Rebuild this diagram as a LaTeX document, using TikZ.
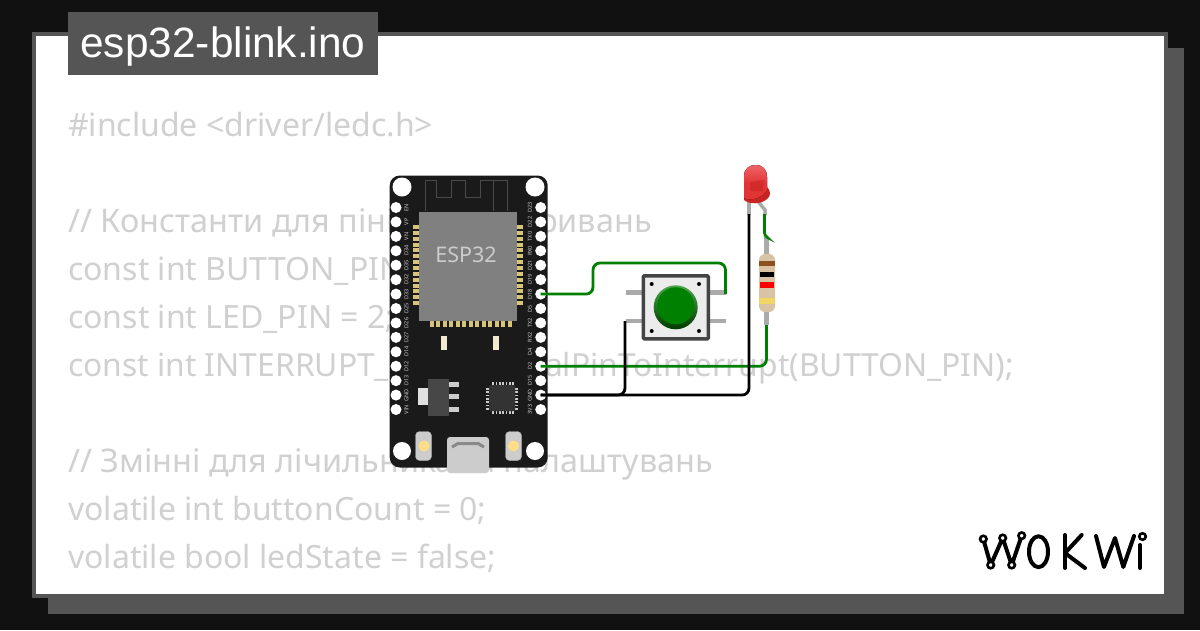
\documentclass[tikz,border=0pt]{standalone}
\usepackage{fontspec}
\setmainfont{Noto Sans}
\newfontfamily\titlefont{Liberation Sans}
\usetikzlibrary{positioning}
\definecolor{page_black}{RGB}{17, 17, 17}
\definecolor{frame_gray}{RGB}{85, 85, 85}
\definecolor{code_gray}{RGB}{208, 208, 208}
\definecolor{board_black}{RGB}{26, 26, 26}
\definecolor{module_gray}{RGB}{128, 128, 128}
\definecolor{antenna_gray}{RGB}{74, 74, 74}
\definecolor{pad_gold}{RGB}{214, 196, 120}
\definecolor{chip_dark}{RGB}{51, 51, 51}
\definecolor{part_light}{RGB}{204, 204, 204}
\definecolor{wire_green}{RGB}{0, 128, 0}
\definecolor{lead_gray}{RGB}{170, 170, 170}
\definecolor{led_red}{RGB}{226, 52, 52}
\definecolor{led_dark}{RGB}{200, 36, 36}
\definecolor{led_light}{RGB}{240, 100, 105}
\definecolor{res_tan}{RGB}{217, 195, 165}
\definecolor{res_brown}{RGB}{140, 80, 30}
\definecolor{res_yellow}{RGB}{240, 215, 100}
\definecolor{cap_green}{RGB}{0, 128, 0}
\definecolor{tact_yellow}{RGB}{255, 222, 135}

\begin{document}
\begin{tikzpicture}[
    x=1pt, y=-1pt,
    codeline/.style={
        anchor=base west,
        inner sep=0pt,
        text=code_gray,
        font=\fontsize{32}{32}\selectfont
    },
    cyrline/.style={
        codeline,
        font=\fontsize{32.4}{32.4}\selectfont
    },
    pinhole/.style={
        circle,
        fill=white,
        minimum size=11pt,
        inner sep=0pt
    },
    pinlabel/.style={
        rotate=90,
        inner sep=0pt,
        text=part_light,
        font=\fontsize{5.5}{5.5}\selectfont
    },
    wire/.style={
        line width=2.8pt,
        rounded corners=7pt,
        #1
    },
    lead/.style={
        line width=4.5pt,
        draw=lead_gray
    },
    pad/.style={
        fill=pad_gold
    },
    tact/.style={
        rectangle,
        fill=part_light,
        draw=lead_gray,
        minimum width=16pt,
        minimum height=29pt,
        rounded corners=4pt
    },
    tactcap/.style={
        circle,
        fill=tact_yellow,
        minimum size=11pt,
        inner sep=0pt
    },
    swdot/.style={
        circle,
        fill=black,
        minimum size=4pt,
        inner sep=0pt
    },
    logo/.style={
        line width=4pt,
        line cap=round,
        line join=round,
        draw=black
    },
    logodot/.style={
        circle,
        draw=black,
        fill=white,
        line width=2.6pt,
        minimum size=6.5pt,
        inner sep=0pt
    }
]

% Page and frame
\fill[page_black] (0,0) rectangle (1200,630);
\fill[frame_gray] (48,48) rectangle (1184,614);
\fill[frame_gray] (32,32) rectangle (1168,598);
\fill[white] (36,36) rectangle (1164,594);
\node[fill=frame_gray, minimum width=310pt, minimum height=63pt, inner sep=0pt] (titlebox) at (223,43.5) {};
\node[anchor=base, inner sep=0pt, text=white, font=\titlefont\fontsize{42.4}{42.4}\selectfont] (title) at (223,57.5) {esp32-blink.ino};

% Code behind the circuit
\node[codeline] (codeinclude) at (68,136) {\#include <driver/ledc.h>};
\node[cyrline] (codepins) at (68,232) {// Константи для пінів та переривань};
\node[codeline] (codebutton) at (68,280) {const int BUTTON\_PIN = 18;};
\node[codeline] (codeled) at (68,328) {const int LED\_PIN = 2;};
\node[codeline, font=\fontsize{31.8}{31.8}\selectfont] (codeint) at (68,376) {const int INTERRUPT\_PIN = digitalPinToInterrupt(BUTTON\_PIN);};
\node[cyrline] (codecount) at (68,472) {// Змінні для лічильника та налаштувань};
\node[codeline] (codevar) at (68,520) {volatile int buttonCount = 0;};
\node[codeline] (codestate) at (68,568) {volatile bool ledState = false;};

% The board
\node[rectangle, fill=board_black, rounded corners=10pt, minimum width=158pt, minimum height=292pt, inner sep=0pt] (board) at (468.7,321.5) {};
\node[pinhole, minimum size=19pt] (holetl) at (402,187) {};
\node[pinhole, minimum size=19pt] (holetr) at (535,187) {};
\node[pinhole, minimum size=18pt] (holebl) at (402,451) {};
\node[pinhole, minimum size=18pt] (holebr) at (535,451) {};

% Antenna
\draw[antenna_gray, line width=1pt] (425.7,211) -- (425.7,180) -- (436.7,180) -- (436.7,197) -- (451.7,197) -- (451.7,180) -- (465,180) -- (465,197) -- (480,197) -- (480,180) -- (507.3,180) -- (507.3,211);
\draw[antenna_gray, line width=1pt] (493.3,180) -- (493.3,211);

% Pins on both sides
\foreach \lbl [count=\i from 0, evaluate=\i as \py using 207.5+14.43*\i] in {EN,VP,VN,D34,D35,D32,D33,D25,D26,D27,D14,D12,D13,GND,VIN} {
    \node[pinhole] (l\lbl) at (396,\py) {};
    \node[pinlabel] (ltxt\lbl) at (406.5,\py) {\lbl};
}
\foreach \lbl [count=\i from 0, evaluate=\i as \py using 207.5+14.43*\i] in {D23,D22,TX0,RX0,D21,D19,D18,D5,TX2,RX2,D4,D2,D15,GND,3V3} {
    \node[pinhole] (r\lbl) at (540.7,\py) {};
    \node[pinlabel] (rtxt\lbl) at (530,\py) {\lbl};
}

% ESP32 module with its pads
\foreach \i in {0,...,13} {
    \fill[pad] (412.7,{225+5.85*\i}) rectangle (419,{229+5.85*\i});
    \fill[pad] (517,{225+5.85*\i}) rectangle (523.3,{229+5.85*\i});
}
\foreach \i in {0,...,12} {
    \fill[pad] ({429.5+6.5*\i},320) rectangle ({433.5+6.5*\i},327);
}
\node[rectangle, fill=module_gray, minimum width=98pt, minimum height=109pt, inner sep=0pt] (module) at (468,266) {};
\node[inner sep=0pt, text=part_light, font=\fontsize{21.5}{21.5}\selectfont] (modulename) at (466,255) {ESP32};

% Small leds
\fill[pad_gold!35!white] (441,336) rectangle (447,350);
\fill[pad_gold!35!white] (492.7,336) rectangle (498.7,350);

% Regulator
\fill[part_light!60!white] (418,388) rectangle (428.5,405);
\fill[part_light] (449,382) rectangle (459,387);
\fill[part_light] (449,394) rectangle (459,399);
\fill[part_light] (449,407) rectangle (459,412);
\fill[chip_dark!90!white] (428.3,379) rectangle (449.3,416);

% Usb chip
\foreach \i in {0,...,6} {
    \fill[part_light] ({492.3+3.3*\i},381.5) rectangle ({494+3.3*\i},384.5);
    \fill[part_light] ({492.3+3.3*\i},411) rectangle ({494+3.3*\i},414);
    \fill[part_light] (485.5,{388+3.3*\i}) rectangle (488.5,{389.7+3.3*\i});
    \fill[part_light] (515,{388+3.3*\i}) rectangle (518,{389.7+3.3*\i});
}
\node[rectangle, fill=chip_dark, rounded corners=2pt, minimum size=26pt, inner sep=0pt] (usbchip) at (502,398) {};

% Buttons and connector at the bottom edge
\node[tact] (tactleft) at (423.5,446) {};
\node[tactcap] (tactleftcap) at (424,446) {};
\node[tact] (tactright) at (513.5,446) {};
\node[tactcap] (tactrightcap) at (513.5,446) {};
\node[rectangle, fill=part_light, rounded corners=3pt, minimum width=42pt, minimum height=36pt, inner sep=0pt] (usb) at (468,455) {};
\draw[lead_gray!80!black, line width=3pt, line join=round] (452,447) -- (458,443.5) -- (478,443.5) -- (484,447);

% The led
\draw[lead, line width=3.5pt] (749,200) -- (749,215);
\draw[lead, line width=3.5pt] (757,200) -- (765,210) -- (765,215);
\fill[led_dark] (744,200) -- (744,176) .. controls (744,169) and (749,165) .. (756,165) .. controls (763,165) and (767,170) .. (767,177) -- (767,187) .. controls (771,190) and (771,197) .. (767,199) .. controls (762,204) and (750,205) .. (744,200);
\fill[top color=led_light, bottom color=led_red, middle color=led_red] (744,198) -- (744,176) .. controls (744,169) and (749,165) .. (756,165) .. controls (763,165) and (767,170) .. (767,177) -- (767,190) .. controls (762,199) and (750,201) .. (744,198);
\fill[led_dark, opacity=0.55] (750,182) -- (764,180) -- (763,191) -- (750,191);
\coordinate (ledcathode) at (749,214);
\coordinate (ledanode) at (764.5,214);

% The resistor
\coordinate (restop) at (766.5,237);
\coordinate (resbottom) at (766.5,325);
\draw[lead] (restop) -- (resbottom);
\node[rectangle, fill=res_tan, rounded corners=6pt, minimum width=16pt, minimum height=58pt, inner sep=0pt] (resistor) at (767,283) {};
\fill[res_brown] (759,261) rectangle (775,266);
\fill[black] (760,271.5) rectangle (774,277);
\fill[red] (760,281.5) rectangle (774,287.5);
\fill[res_yellow] (759,298) rectangle (775,304);

% The push button
\draw[lead] (626,292.7) -- (642,292.7);
\draw[lead] (626,321) -- (642,321);
\draw[lead] (710,292.7) -- (726,292.7);
\draw[lead] (710,321) -- (726,321);
\coordinate (btntr) at (725.5,294);
\coordinate (btnbl) at (625,321);
\node[rectangle, draw=frame_gray!80!black, fill=gray!15, line width=3.4pt, rounded corners=1pt, minimum width=65pt, minimum height=63pt, inner sep=0pt] (btnbody) at (675.8,307.3) {};
\node[swdot] (btndot1) at (651.7,284) {};
\node[swdot] (btndot2) at (699,284) {};
\node[swdot] (btndot3) at (651.7,331) {};
\node[swdot] (btndot4) at (699,331) {};
\node[circle, top color=cap_green!70!white, bottom color=cap_green!45!black, minimum size=44pt, inner sep=0pt] (btncap) at (675.7,307.3) {};
\node[circle, fill=cap_green, minimum size=37pt, inner sep=0pt] (btncapin) at (675.7,305.8) {};

% Draw the wires
\coordinate (greenup) at (593,263);
\draw[wire=wire_green] (rD18.center) -| (greenup) -| (btntr);
\draw[wire=wire_green] (rD2.center) -| (resbottom);
\draw[wire=black] (rGND.center) -| (btnbl);
\draw[wire=black] (rGND.center) -| (ledcathode);
\draw[wire=wire_green, rounded corners=3pt] (ledanode) -- (764.5,236) -- (restop);

% Wokwi logo
\draw[logo] (983.3,539) -- (990.7,565) -- (1002.7,538) -- (1011.7,565) -- (1021.7,535.7);
\draw[logo] (1038.5,551.7) ellipse (9.5 and 15.5);
\draw[logo] (1065,535) -- (1065,568);
\draw[logo] (1081.7,535) -- (1065,553) -- (1085,568);
\draw[logo] (1096,536) -- (1104,567) -- (1115,538) -- (1123.3,567) -- (1134,536);
\draw[logo] (1140,545) -- (1140,568);
\node[logodot] (logoa) at (983.3,539) {};
\node[logodot] (logob) at (990.7,565) {};
\node[logodot] (logoc) at (1002.7,538) {};
\node[logodot] (logod) at (1011.7,565) {};
\node[logodot] (logoe) at (1021.7,535.7) {};
\node[logodot] (logof) at (1142.5,536.5) {};

\end{tikzpicture}
\end{document}
